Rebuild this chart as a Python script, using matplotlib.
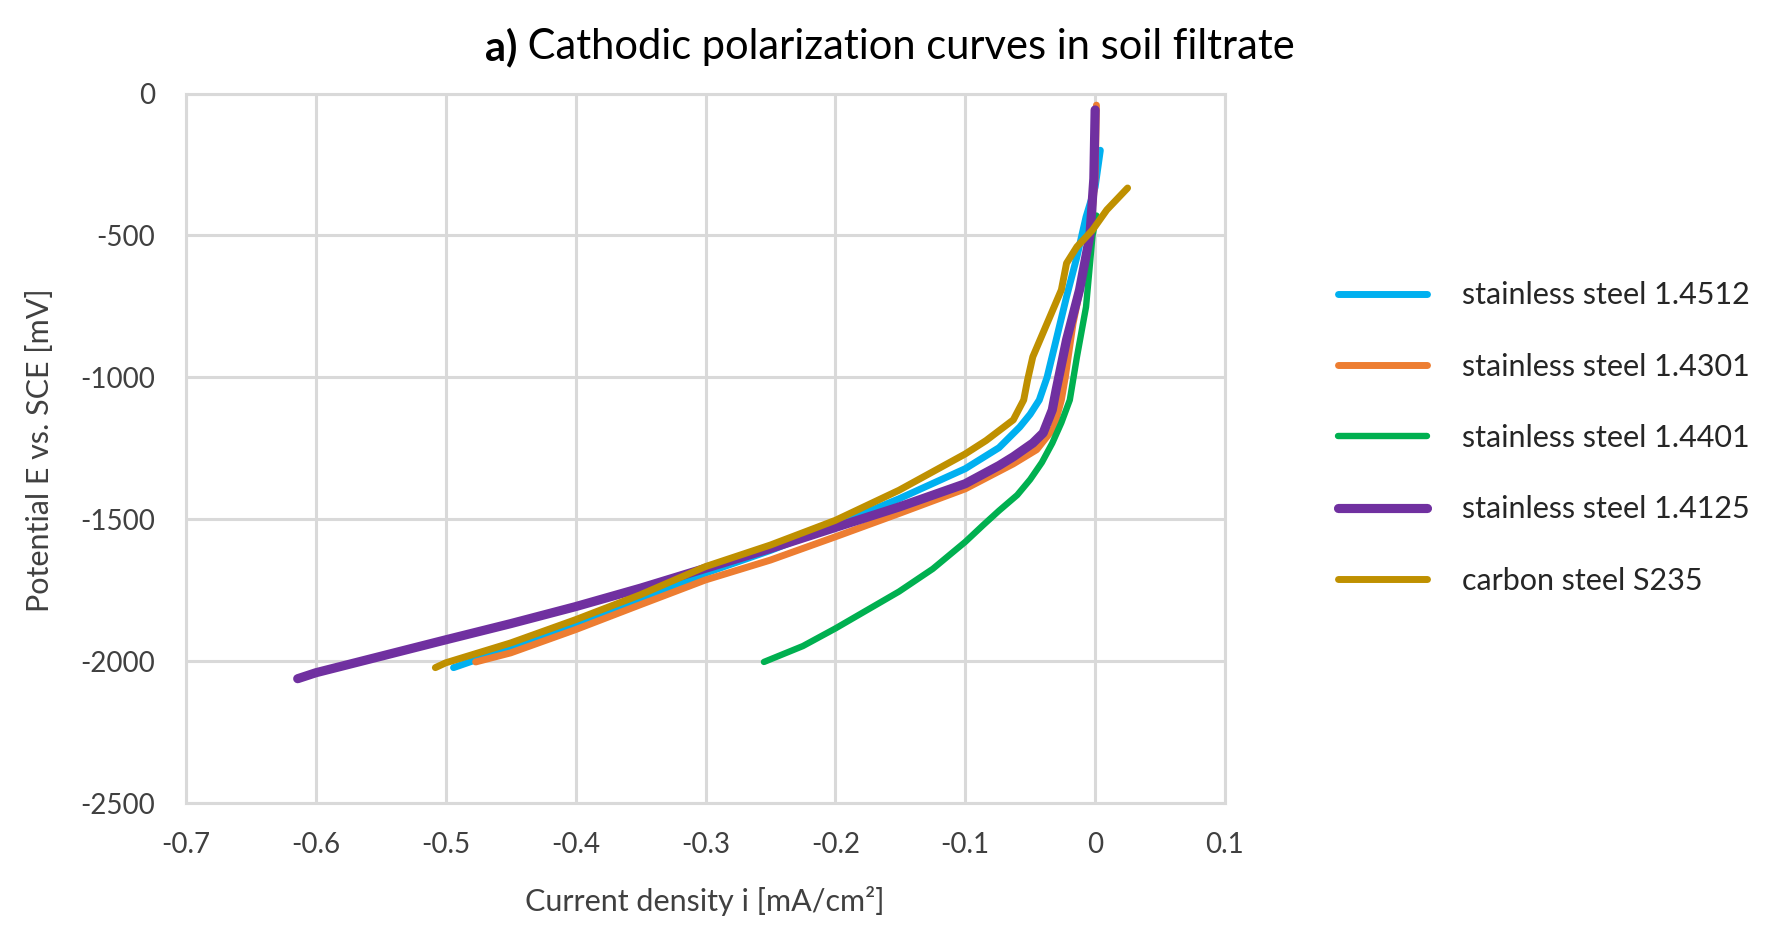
import matplotlib
matplotlib.use("Agg")
import matplotlib.pyplot as plt

# ---- data (current density mA/cm2, potential mV) ----
labels = ["stainless steel 1.4512", "stainless steel 1.4301", "stainless steel 1.4401",
          "stainless steel 1.4125", "carbon steel S235"]

x_1_4512 = [0.004, 0.0, -0.007, -0.014, -0.022, -0.030, -0.037, -0.043, -0.050, -0.058,
            -0.074, -0.100, -0.151, -0.200, -0.250, -0.300, -0.350, -0.400, -0.450, -0.494]
y_1_4512 = [-200, -330, -435, -575, -716, -868, -1000, -1080, -1130, -1175,
            -1248, -1322, -1428, -1521, -1610, -1690, -1784, -1871, -1953, -2023]

x_1_4301 = [0.001, 0.0, -0.004, -0.012, -0.017, -0.023, -0.026, -0.032, -0.045, -0.063,
            -0.100, -0.151, -0.200, -0.250, -0.300, -0.350, -0.400, -0.450, -0.477]
y_1_4301 = [-41, -300, -500, -700, -810, -1000, -1080, -1180, -1255, -1305,
            -1393, -1480, -1562, -1644, -1714, -1801, -1889, -1971, -2003]

x_1_4401 = [0.001, -0.002, -0.007, -0.014, -0.0195, -0.026, -0.033, -0.041, -0.050, -0.060,
            -0.074, -0.086, -0.100, -0.125, -0.151, -0.200, -0.225, -0.255]
y_1_4401 = [-430, -500, -752, -928, -1080, -1160, -1232, -1300, -1360, -1415,
            -1470, -1520, -1580, -1675, -1755, -1885, -1947, -2003]

x_1_4125 = [0.0, -0.001, -0.004, -0.012, -0.022, -0.030, -0.033, -0.040, -0.048, -0.063,
            -0.074, -0.100, -0.151, -0.200, -0.250, -0.300, -0.350, -0.400, -0.450, -0.500,
            -0.600, -0.614]
y_1_4125 = [-58, -300, -500, -692, -868, -1044, -1115, -1196, -1232, -1280,
            -1311, -1375, -1457, -1529, -1603, -1673, -1743, -1808, -1868, -1925,
            -2041, -2062]

x_S235 = [0.025, 0.009, -0.002, -0.014, -0.022, -0.026, -0.037, -0.048, -0.052, -0.055,
          -0.063, -0.084, -0.100, -0.151, -0.200, -0.250, -0.300, -0.350, -0.400, -0.450,
          -0.500, -0.508]
y_S235 = [-333, -410, -481, -540, -598, -692, -810, -928, -1009, -1080,
          -1150, -1223, -1270, -1398, -1504, -1591, -1667, -1766, -1854, -1936,
          -2006, -2023]

x_ticks = [-0.7, -0.6, -0.5, -0.4, -0.3, -0.2, -0.1, 0, 0.1]
x_ticklabels = ["-0.7", "-0.6", "-0.5", "-0.4", "-0.3", "-0.2", "-0.1", "0", "0.1"]
y_ticks = [0, -500, -1000, -1500, -2000, -2500]
y_ticklabels = ["0", "-500", "-1000", "-1500", "-2000", "-2500"]

colors = ["#00b0f0", "#ed7d31", "#00b050", "#7030a0", "#bf9000"]
widths = [5.0, 5.0, 4.6, 6.6, 5.0]

plt.rcParams['font.family'] = ['Lato', 'DejaVu Sans']

fig = plt.figure(figsize=(17.88, 9.43), dpi=100)
ax = fig.add_axes([186/1788, 1-803/943, (1225-186)/1788, (803-93.5)/943])

series = [(x_1_4512, y_1_4512), (x_1_4301, y_1_4301), (x_1_4401, y_1_4401),
          (x_1_4125, y_1_4125), (x_S235, y_S235)]
for (xs, ys), c, lw, lab in zip(series, colors, widths, labels):
    ax.plot(xs, ys, color=c, lw=lw, label=lab, solid_capstyle='round',
            solid_joinstyle='round')

ax.set_xlim(-0.7, 0.1)
ax.set_ylim(-2500, 0)
ax.set_xticks(x_ticks)
ax.set_xticklabels(x_ticklabels)
ax.set_yticks(y_ticks)
ax.set_yticklabels(y_ticklabels)
ax.grid(True, color="#d9d9d9", lw=2.2)
ax.set_axisbelow(True)
for s in ax.spines.values():
    s.set_color("#d9d9d9")
    s.set_linewidth(2.2)
ax.tick_params(length=0, labelsize=20, colors="#404040")
ax.tick_params(axis='x', pad=21)
ax.tick_params(axis='y', pad=22)

leg = ax.legend(loc='center left', bbox_to_anchor=(1338/1788, 1-438/943),
                bbox_transform=fig.transFigure, frameon=False, fontsize=22,
                handlelength=2.9, handletextpad=1.15, labelspacing=1.42,
                borderpad=0, borderaxespad=0)
for line in leg.get_lines():
    line.set_solid_capstyle('round')
for t in leg.get_texts():
    t.set_color("#262626")

fig.text(40/1788, 1-450/943, "Potential E vs. SCE [mV]", rotation=90,
         ha='center', va='center', fontsize=22, color="#404040")
fig.text(705/1788, 1-901/943, "Current density i [mA/cm²]",
         ha='center', va='center', fontsize=22, color="#404040")

# title: bold "a)" + regular text, centered together
t1 = fig.text(0, 1-47/943, "a)", fontsize=30, fontweight='bold', ha='left', va='center')
t2 = fig.text(0, 1-47/943, " Cathodic polarization curves in soil filtrate",
              fontsize=30, ha='left', va='center')
fig.canvas.draw()
r = fig.canvas.get_renderer()
w1 = t1.get_window_extent(r).width
w2 = t2.get_window_extent(r).width
cx = 890
start = cx - (w1 + w2) / 2
t1.set_x(start / 1788)
t2.set_x((start + w1) / 1788)

fig.savefig("out.png", dpi=100)
